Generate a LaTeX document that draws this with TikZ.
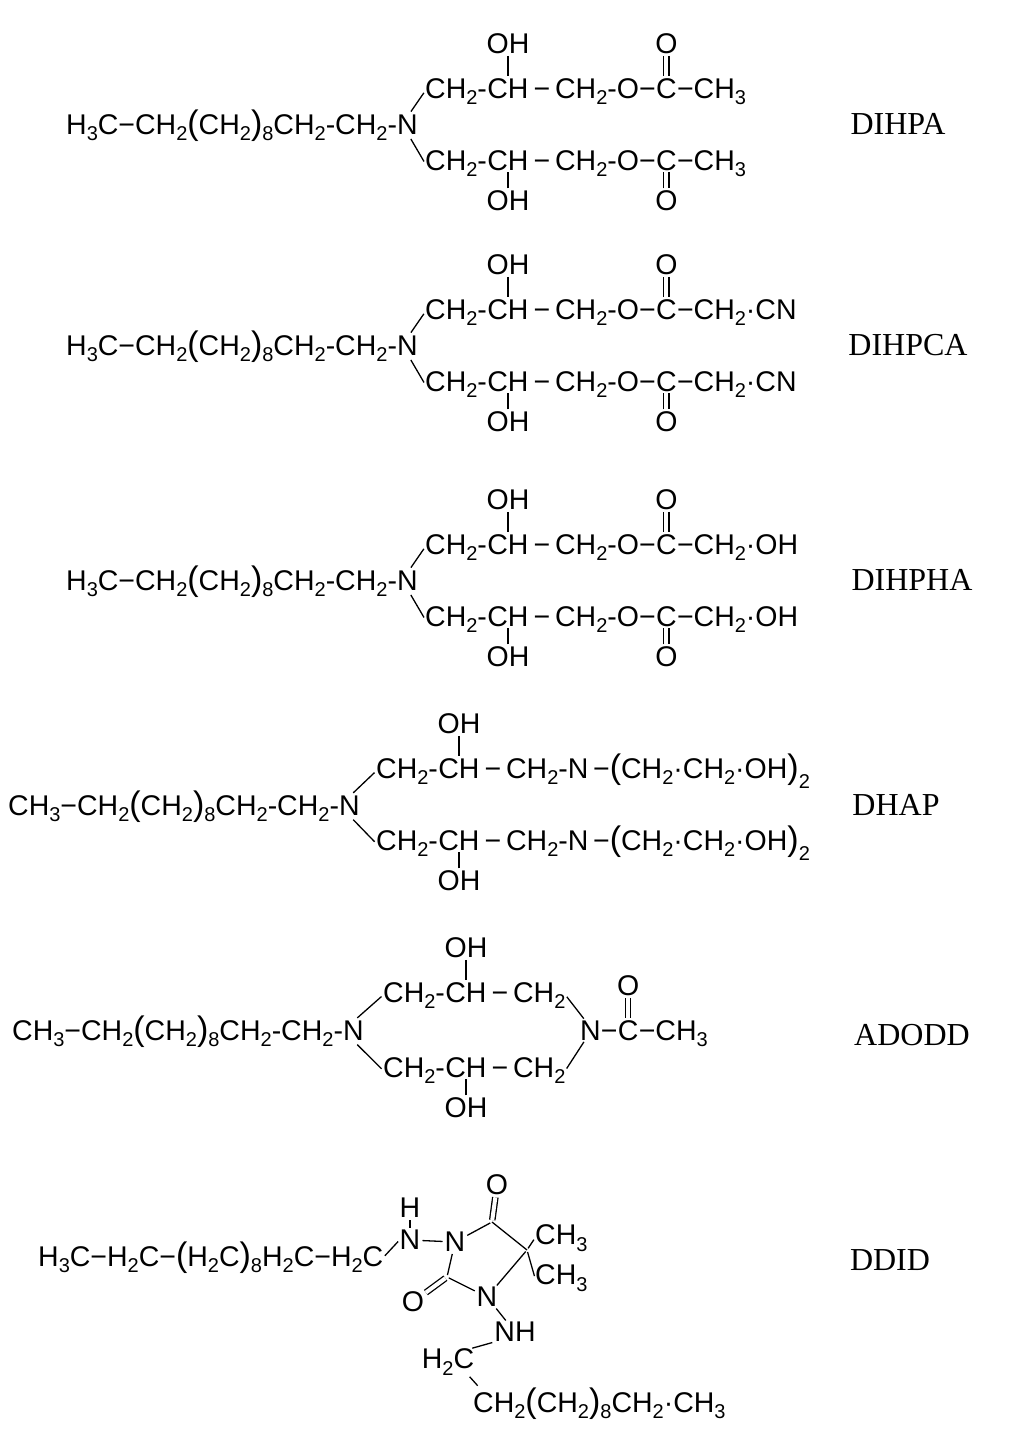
\documentclass[tikz,border=0pt]{standalone}
\usepackage{fontspec}
\setmainfont{Liberation Sans}
\newfontfamily\lbl{Liberation Serif}
\newcommand\sbs[1]{\raisebox{-0.22em}{\fontsize{20}{20}\selectfont #1}}
\newcommand\bpar[1]{{\fontsize{34}{34}\selectfont #1}}
\begin{document}
\begin{tikzpicture}[x=1pt,y=-1pt,
  t/.style={inner sep=0pt,font=\fontsize{28.5}{29}\selectfont},
  nm/.style={inner sep=0pt,font=\lbl\fontsize{32}{33}\selectfont},
  bd/.style={line width=1.3pt,shorten <=2pt,shorten >=2pt},
  dbl/.style={line width=1.3pt,double,double distance=4pt,shorten <=2pt,shorten >=2pt}]
\useasboundingbox (0,0) rectangle (1010,1443);
% ---------- generic rows 1-3
\foreach \r/\dy/\tail/\lab/\lx in {1/0/{−CH\sbs{3}}/DIHPA/898, 2/221/{−CH\sbs{2}·CN}/DIHPCA/908, 3/456/{−CH\sbs{2}·OH}/DIHPHA/912}{
  \node[t,anchor=base west] (m\r) at (66,134+\dy) {H\sbs{3}C−CH\sbs{2}\bpar(CH\sbs{2}\bpar)\sbs{8}CH\sbs{2}-CH\sbs{2}-N};
  \node[t,anchor=base west] (ua\r) at (425,98+\dy) {CH\sbs{2}-};
  \node[t,anchor=base west] (ub\r) at (ua\r.base east) {CH};
  \node[t,anchor=base west] (uc\r) at (ub\r.base east) {\,−\,CH\sbs{2}-O−};
  \node[t,anchor=base west] (ud\r) at (uc\r.base east) {C};
  \node[t,anchor=base west] (ue\r) at (ud\r.base east) {\tail};
  \node[t,anchor=base west] (la\r) at (425,170+\dy) {CH\sbs{2}-};
  \node[t,anchor=base west] (lb\r) at (la\r.base east) {CH};
  \node[t,anchor=base west] (lc\r) at (lb\r.base east) {\,−\,CH\sbs{2}-O−};
  \node[t,anchor=base west] (ld\r) at (lc\r.base east) {C};
  \node[t,anchor=base west] (le\r) at (ld\r.base east) {\tail};
  \node[t,anchor=south] (uoh\r) at ([yshift=24pt]ub\r.north) {OH};
  \node[t,anchor=south] (uo\r) at ([yshift=24pt]ud\r.north) {O};
  \node[t,anchor=north] (loh\r) at ([yshift=-20pt]lb\r.south) {OH};
  \node[t,anchor=north] (lo\r) at ([yshift=-20pt]ld\r.south) {O};
  \draw[bd] (uoh\r.south) -- (ub\r.north);
  \draw[bd] (loh\r.north) -- (lb\r.south);
  \draw[dbl] (uo\r.south) -- (ud\r.north);
  \draw[dbl] (lo\r.north) -- (ld\r.south);
  \draw[bd] (m\r.east) ++(-8,-12) coordinate (nu\r) -- (ua\r.west);
  \draw[bd] (m\r.east) ++(-8,12) coordinate (nl\r) -- (la\r.west);
  \node[nm] (lab\r) at (\lx,124+\dy) {\lab};
}
% ---------- DHAP
\node[t,anchor=base west] (m4) at (8,815) {CH\sbs{3}−CH\sbs{2}\bpar(CH\sbs{2}\bpar)\sbs{8}CH\sbs{2}-CH\sbs{2}-N};
\foreach \p/\y/\s in {u/778/-1, l/850/1}{
  \node[t,anchor=base west] (\p a4) at (376,\y) {CH\sbs{2}-};
  \node[t,anchor=base west] (\p b4) at (\p a4.base east) {CH};
  \node[t,anchor=base west] (\p c4) at (\p b4.base east) {\,−\,CH\sbs{2}-N\,−\bpar(CH\sbs{2}·CH\sbs{2}·OH\bpar)\sbs{\raisebox{-0.2em}{2}}};
  \draw[bd] (m4.east) ++(-8,12*\s) -- (\p a4.west);
}
\node[t,anchor=south] (uoh4) at ([yshift=24pt]ub4.north) {OH};
\node[t,anchor=north] (loh4) at ([yshift=-20pt]lb4.south) {OH};
\draw[bd] (uoh4.south) -- (ub4.north);
\draw[bd] (loh4.north) -- (lb4.south);
\node[nm] (lab4) at (896,805) {DHAP};
% ---------- ADODD
\node[t,anchor=base west] (m5) at (12,1040) {CH\sbs{3}−CH\sbs{2}\bpar(CH\sbs{2}\bpar)\sbs{8}CH\sbs{2}-CH\sbs{2}-N};
\foreach \p/\y/\s in {u/1002/-1, l/1077/1}{
  \node[t,anchor=base west] (\p a5) at (383,\y) {CH\sbs{2}-};
  \node[t,anchor=base west] (\p b5) at (\p a5.base east) {CH};
  \node[t,anchor=base west] (\p c5) at (\p b5.base east) {\,−\,CH\sbs{2}};
  \draw[bd] (m5.east) ++(-8,12*\s) -- (\p a5.west);
}
\node[t,anchor=base west] (n5) at (580,1040) {N−};
\node[t,anchor=base west] (c5) at (n5.base east) {C};
\node[t,anchor=base west] (e5) at (c5.base east) {−CH\sbs{3}};
\draw[bd] (uc5.east) -- ([shift={(5,-10)}]n5.west);
\draw[bd] (lc5.east) -- ([shift={(5,10)}]n5.west);
\node[t,anchor=south] (o5) at ([yshift=24pt]c5.north) {O};
\draw[dbl] (o5.south) -- (c5.north);
\node[t,anchor=south] (uoh5) at ([yshift=24pt]ub5.north) {OH};
\node[t,anchor=north] (loh5) at ([yshift=-20pt]lb5.south) {OH};
\draw[bd] (uoh5.south) -- (ub5.north);
\draw[bd] (loh5.north) -- (lb5.south);
\node[nm] (lab5) at (912,1035) {ADODD};
% ---------- DDID
\node[t,anchor=base west] (m6) at (38,1266) {H\sbs{3}C−H\sbs{2}C−\bpar(H\sbs{2}C\bpar)\sbs{8}H\sbs{2}C−H\sbs{2}C};
\node[t] (nh) at (410,1240) {N};
\node[t] (hh) at (410,1208) {H};
\node[t] (n1) at (455,1242) {N};
\coordinate (c4) at (492,1222);
\coordinate (c5) at (527,1250);
\node[t] (n3) at (487,1297) {N};
\coordinate (c2) at (447,1277);
\node[t] (ot) at (497,1185) {O};
\node[t] (ol) at (413,1302) {O};
\node[t,anchor=west] (me1) at (535,1238) {CH\sbs{3}};
\node[t,anchor=west] (me2) at (535,1278) {CH\sbs{3}};
\node[t] (nh2) at (515,1332) {NH};
\node[t] (h2c) at (448,1362) {H\sbs{2}C};
\node[t,anchor=base west] (ch6) at (473,1412) {CH\sbs{2}\bpar(CH\sbs{2}\bpar)\sbs{8}CH\sbs{2}·CH\sbs{3}};
\draw[bd] (m6.east) -- (nh.west);
\draw[bd] (hh) -- (nh);
\draw[bd] (nh) -- (n1);
\draw[bd] (n1) -- (c4);
\draw[line width=1.3pt] (c4) -- (c5);
\draw[bd] (c5) -- (n3);
\draw[bd] (n3) -- (c2);
\draw[bd] (c2) -- (n1);
\draw[dbl] (c4) -- (ot);
\draw[dbl] (c2) -- (ol);
\draw[bd] (c5) -- (me1.west);
\draw[bd] (c5) -- (me2.west);
\draw[bd] (n3) -- (nh2);
\draw[bd] (nh2.south west) -- ([xshift=-4pt]h2c.north east);
\draw[bd] ([xshift=-6pt]h2c.south east) -- ([xshift=6pt]ch6.north west);
\node[nm] (lab6) at (890,1260) {DDID};
\end{tikzpicture}
\end{document}
